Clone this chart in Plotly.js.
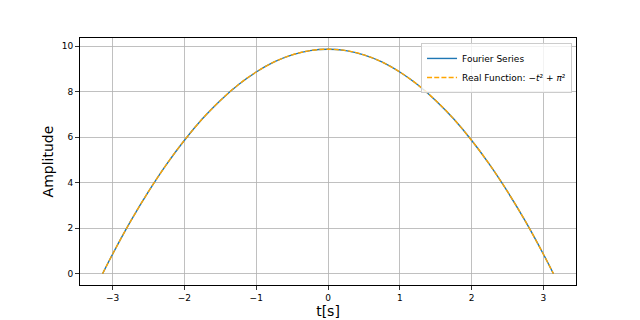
<!DOCTYPE html>
<html>
<head>
<meta charset="utf-8">
<script src="https://cdn.plot.ly/plotly-3.0.1.min.js"></script>
<style>html,body{margin:0;padding:0;background:#fff;}#chart{width:640px;height:320px;}</style>
</head>
<body>
<div id="chart"></div>
<script>
// Values
const tValues = [-3.1416, -3.0, -2.75, -2.5, -2.25, -2.0, -1.75, -1.5, -1.25, -1.0, -0.75, -0.5, -0.25, 0.0,
                 0.25, 0.5, 0.75, 1.0, 1.25, 1.5, 1.75, 2.0, 2.25, 2.5, 2.75, 3.0, 3.1416];
const fourierValues = [0.00, 0.87, 2.31, 3.62, 4.81, 5.87, 6.81, 7.62, 8.31, 8.87, 9.31, 9.62, 9.81, 9.87,
                       9.81, 9.62, 9.31, 8.87, 8.31, 7.62, 6.81, 5.87, 4.81, 3.62, 2.31, 0.87, 0.00];
const realValues = [0.00, 0.87, 2.31, 3.62, 4.81, 5.87, 6.81, 7.62, 8.31, 8.87, 9.31, 9.62, 9.81, 9.87,
                    9.81, 9.62, 9.31, 8.87, 8.31, 7.62, 6.81, 5.87, 4.81, 3.62, 2.31, 0.87, 0.00];
const xTicks = [-3, -2, -1, 0, 1, 2, 3];
const xTickLabels = ['−3', '−2', '−1', '0', '1', '2', '3'];
const yTicks = [0, 2, 4, 6, 8, 10];
const seriesNames = ['Fourier Series', 'Real Function: −<i>t</i>² + <i>π</i>²'];

const font = 'DejaVu Sans, sans-serif';
const traces = [
  {x: tValues, y: fourierValues, type: 'scatter', mode: 'lines', name: seriesNames[0],
   line: {color: '#1f77b4', width: 1.4, shape: 'spline'}},
  {x: tValues, y: realValues, type: 'scatter', mode: 'lines', name: seriesNames[1],
   line: {color: '#ffa500', width: 1.4, dash: '5px,2.2px', shape: 'spline'}}
];
const axisCommon = {
  showline: true, mirror: true, linecolor: '#000', linewidth: 1,
  ticks: 'outside', ticklen: 4, tickwidth: 0.8, tickcolor: '#000',
  showgrid: true, gridcolor: '#b0b0b0', gridwidth: 0.8, zeroline: false,
  tickfont: {family: font, size: 9, color: '#000'}
};
const layout = {
  width: 640, height: 320,
  margin: {l: 80, r: 64, t: 38, b: 35},
  paper_bgcolor: '#fff', plot_bgcolor: '#fff',
  font: {family: font, color: '#000'},
  showlegend: true,
  xaxis: Object.assign({}, axisCommon, {
    range: [-3.4558, 3.4558], tickvals: xTicks, ticktext: xTickLabels,
    title: {text: 't[s]', font: {family: font, size: 14, color: '#000'}, standoff: 0}
  }),
  yaxis: Object.assign({}, axisCommon, {
    range: [-0.4935, 10.3631], tickvals: yTicks,
    title: {text: 'Amplitude', font: {family: font, size: 14, color: '#000'}, standoff: 4}
  }),
  legend: {
    x: 0.992, y: 0.98, xanchor: 'right', yanchor: 'top',
    bgcolor: 'rgba(255,255,255,0.8)', bordercolor: '#cccccc', borderwidth: 1,
    font: {family: font, size: 9, color: '#000'},
    itemwidth: 30, tracegroupgap: 0
  }
};
Plotly.newPlot('chart', traces, layout, {displayModeBar: false, staticPlot: true});
</script>
</body>
</html>
